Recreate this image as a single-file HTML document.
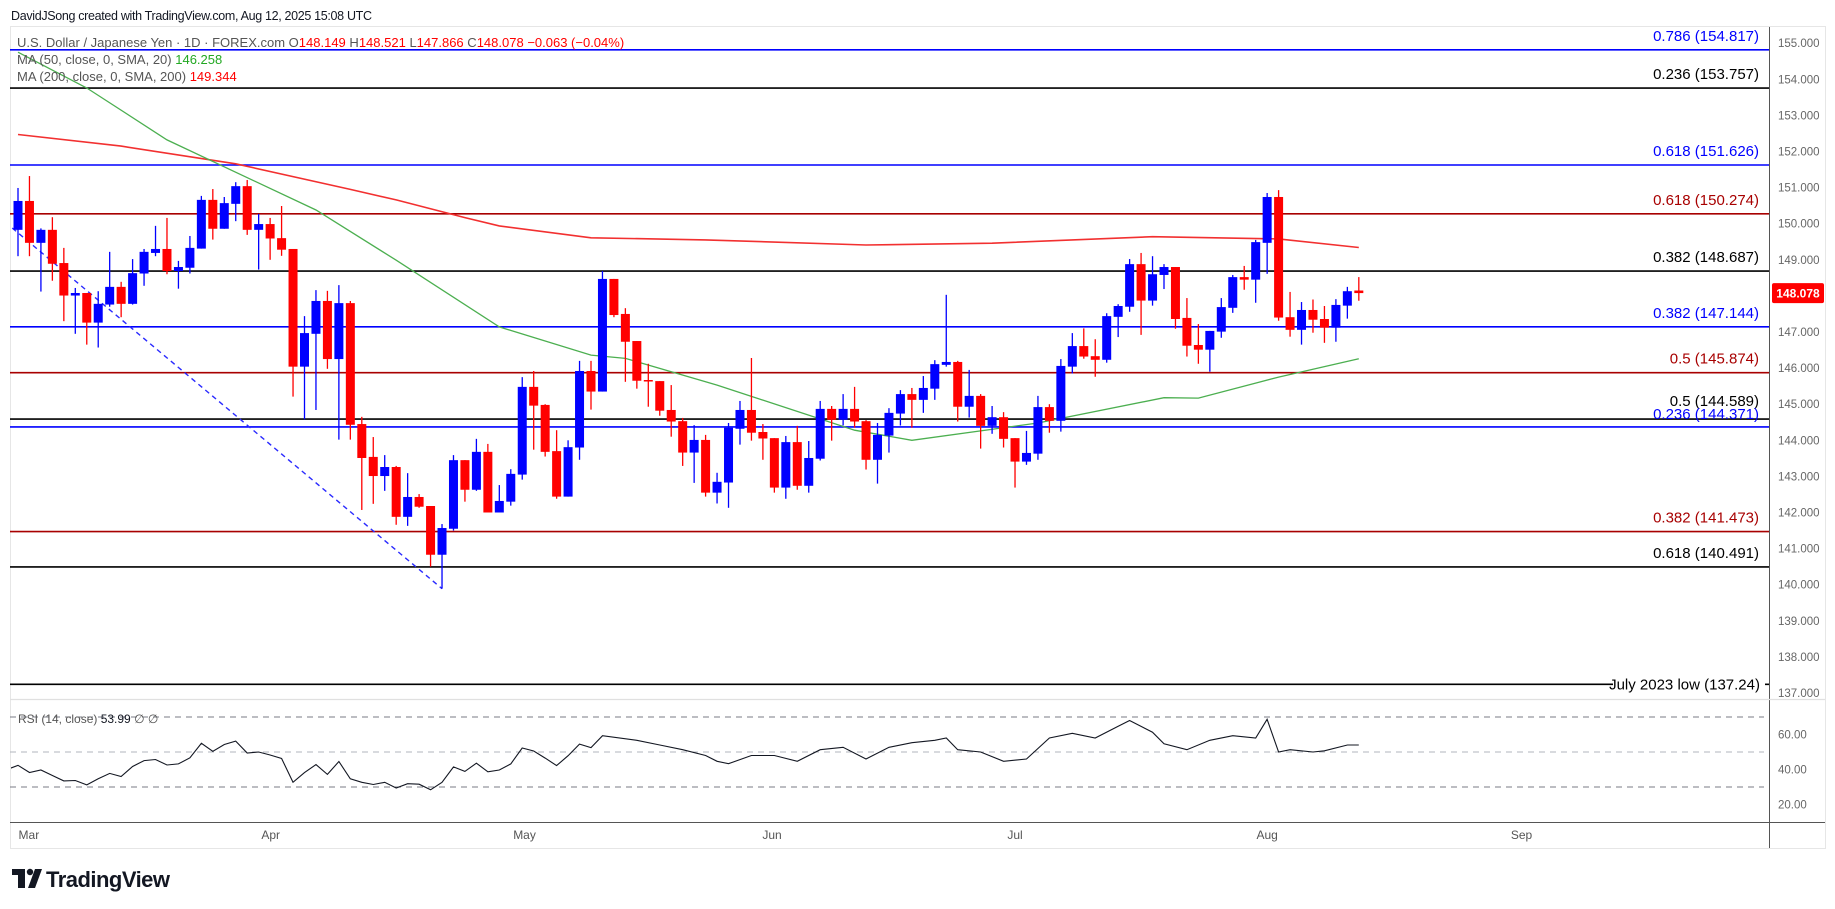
<!DOCTYPE html>
<html><head><meta charset="utf-8"><title>USDJPY Daily</title>
<style>
html,body{margin:0;padding:0;background:#fff;}
svg{display:block;font-family:"Liberation Sans",sans-serif;}
</style></head>
<body>
<svg id="chart" width="1835" height="909" viewBox="0 0 1835 909">
  <rect x="0" y="0" width="1835" height="909" fill="#ffffff"/>
  <text x="11" y="20" font-size="12.5" fill="#131722" textLength="361">DavidJSong created with TradingView.com, Aug 12, 2025 15:08 UTC</text>
  <rect x="10.5" y="26.5" width="1815" height="822" fill="none" stroke="#e6e6e6" stroke-width="1"/>
  <g id="plot"></g>
  <g id="rsi"></g>
  <g id="axes"></g>
  <text x="17" y="47" font-size="13" fill="#555">U.S. Dollar / Japanese Yen · 1D · FOREX.com <tspan fill="#555">O</tspan><tspan fill="#f00">148.149</tspan> <tspan fill="#555">H</tspan><tspan fill="#f00">148.521</tspan> <tspan fill="#555">L</tspan><tspan fill="#f00">147.866</tspan> <tspan fill="#555">C</tspan><tspan fill="#f00">148.078</tspan> <tspan fill="#f00">−0.063 (−0.04%)</tspan></text>
  <text x="17" y="64" font-size="13" fill="#555">MA (50, close, 0, SMA, 20) <tspan fill="#22a822">146.258</tspan></text>
  <text x="17" y="81" font-size="13" fill="#555">MA (200, close, 0, SMA, 200) <tspan fill="#f00">149.344</tspan></text>
  <text x="18" y="723" font-size="12" fill="#555">RSI (14, close) <tspan fill="#131722">53.99</tspan>  ∅  ∅</text>
  <g>
    <rect x="12" y="869" width="13" height="6" fill="#131722"/>
    <rect x="18" y="869" width="7" height="19" fill="#131722"/>
    <circle cx="30" cy="872" r="3.2" fill="#131722"/>
    <polygon points="35,869 42,869 35,888 28,888" fill="#131722"/>
    <text x="46" y="887" font-size="22" font-weight="bold" fill="#131722" textLength="124">TradingView</text>
  </g>
</svg>
<script>
// ---------- data ----------
const opens  = [149.83,150.63,149.47,149.83,148.91,148.01,148.08,147.26,147.76,148.25,147.78,148.62,149.19,149.30,148.69,148.78,149.31,150.66,149.86,150.55,151.04,149.83,149.99,149.60,149.30,146.04,146.95,147.86,146.25,147.80,144.45,143.54,143.01,143.26,141.88,142.43,142.18,140.83,141.55,143.45,142.63,143.68,142.00,142.30,143.05,145.48,144.98,143.70,142.44,143.80,145.92,145.35,148.47,147.50,146.75,145.67,145.64,144.84,144.53,143.66,144.01,142.55,142.83,144.32,144.84,144.23,144.06,142.69,143.95,142.74,143.49,144.87,144.57,144.87,144.53,143.46,144.13,144.74,145.28,145.12,145.43,146.09,146.17,144.93,145.23,144.40,144.64,144.06,143.41,143.63,144.92,144.54,146.04,146.61,146.33,146.23,147.42,147.70,148.88,147.87,148.58,148.80,147.39,146.64,146.51,147.01,147.67,148.52,148.45,149.47,150.74,147.41,147.06,147.61,147.36,147.12,147.73,148.149];
const highs  = [150.99,151.32,149.87,150.18,149.33,148.22,148.08,148.13,149.22,148.39,149.02,149.30,149.94,150.16,148.97,149.66,150.77,150.96,150.74,151.15,151.21,150.27,150.16,150.49,149.30,147.44,148.16,148.14,148.30,147.86,144.65,144.09,143.59,143.29,143.09,142.51,142.18,141.68,143.59,143.45,144.04,143.90,142.76,143.20,145.75,145.92,145.00,144.28,144.00,146.20,146.20,148.69,148.47,147.66,146.75,146.12,145.64,145.53,144.62,144.42,144.15,143.10,144.48,145.09,146.28,144.45,144.06,144.12,144.40,143.98,145.09,144.95,145.28,145.48,144.56,144.48,144.89,145.39,145.45,145.78,146.22,148.03,146.20,145.95,145.28,144.95,144.78,144.06,144.26,145.23,145.00,146.25,146.97,147.10,146.80,147.52,147.77,149.02,149.19,149.10,148.88,148.80,147.94,147.22,147.03,147.94,148.58,148.83,149.55,150.85,150.93,148.11,147.83,147.90,147.72,147.91,148.25,148.521];
const lows   = [149.10,149.10,148.12,148.42,147.30,146.95,146.65,146.57,147.70,147.41,147.76,148.28,149.10,148.60,148.20,148.62,149.31,149.56,149.86,150.07,149.69,148.73,149.00,149.11,145.21,144.58,144.84,145.98,144.02,144.02,142.07,142.24,142.60,141.66,141.63,142.13,140.50,139.89,141.50,142.30,142.60,142.00,142.00,142.19,142.91,143.74,143.55,142.38,142.44,143.46,144.85,145.35,147.41,145.62,145.43,144.93,144.68,144.10,143.29,142.82,142.44,142.25,142.13,143.88,143.99,143.46,142.55,142.38,142.63,142.55,143.44,143.99,144.41,144.35,143.19,142.80,143.66,144.41,144.35,144.76,145.12,146.04,144.52,144.63,143.77,144.18,143.80,142.69,143.32,143.46,144.21,144.24,145.85,146.26,145.76,146.15,146.86,147.56,146.92,147.73,148.19,147.09,146.32,146.12,145.90,146.84,147.53,148.17,147.81,148.61,147.31,146.87,146.65,146.98,146.70,146.73,147.37,147.866];
const closes = [150.63,149.47,149.83,148.89,148.01,148.08,147.26,147.78,148.25,147.78,148.63,149.22,149.30,148.69,148.80,149.33,150.66,149.86,150.57,151.04,149.83,149.99,149.59,149.28,146.04,146.97,147.86,146.25,147.80,144.43,143.51,143.01,143.26,141.88,142.43,142.16,140.83,141.57,143.45,142.63,143.68,142.00,142.32,143.07,145.48,144.96,143.68,142.44,143.81,145.92,145.35,148.47,147.47,146.73,145.65,145.63,144.82,144.52,143.66,144.01,142.55,142.85,144.35,144.84,144.21,144.05,142.69,143.95,142.74,143.51,144.87,144.57,144.87,144.52,143.46,144.15,144.76,145.28,145.12,145.45,146.11,146.17,144.93,145.23,144.40,144.64,144.04,143.41,143.65,144.92,144.54,146.06,146.61,146.32,146.23,147.44,147.72,148.88,147.87,148.60,148.80,147.36,146.62,146.51,147.03,147.69,148.52,148.45,149.49,150.74,147.40,147.06,147.61,147.34,147.12,147.75,148.13,148.078];

const ma50Bars   = [0,6,13,26,33,42,50,53,61,73,78,89,100,103,110,117];
const ma50Vals   = [154.75,153.76,152.32,150.38,148.99,147.14,146.36,146.27,145.53,144.28,144.00,144.48,145.18,145.17,145.75,146.26];
const ma200Bars  = [0,9,19,29,33,39,42,50,60,74,85,99,110,117];
const ma200Vals  = [152.47,152.15,151.66,150.95,150.66,150.17,149.94,149.61,149.55,149.41,149.46,149.64,149.58,149.34];

const rsiBars = [-1,0,1,2,3,4,5,6,7,8,9,10,11,12,13,14,15,16,17,18,19,20,21,22,23,24,25,26,27,28,29,30,31,32,33,34,35,36,37,38,39,40,41,42,43,44,45,46,47,48,49,50,51,54,56,58,60,61,62,64,66,68,70,72,74,76,78,80,81,82,84,86,88,90,92,94,96,97,99,100,102,104,106,108,109,110,111,113,114,116,117];
const rsiVals = [39.9,42.4,38.3,39.7,36.6,33.5,33.7,31.2,34.7,37.8,36.0,41.7,45.1,45.7,42.6,43.2,46.7,55.0,50.4,54.3,56.2,49.4,50.0,48.3,46.3,32.7,38.2,42.8,37.2,44.6,34.7,32.7,31.4,32.7,29.4,31.9,31.6,28.4,32.7,41.5,38.9,43.6,38.7,39.7,43.2,52.3,50.6,46.5,42.2,47.9,54.5,52.5,59.3,56.7,54.0,51.3,48.0,44.7,43.3,48.0,48.0,44.7,51.3,52.7,46.0,52.7,55.3,56.7,58.0,51.3,50.0,44.7,46.0,58.0,60.7,58.0,64.7,68.0,61.3,54.7,51.3,56.7,59.3,58.0,68.7,50.0,51.3,50.0,50.7,54.0,53.99];

const fibPrices = [154.817,153.757,151.626,150.274,148.687,147.144,145.874,144.589,144.371,141.473,140.491];
const fibLabels = ["0.786 (154.817)","0.236 (153.757)","0.618 (151.626)","0.618 (150.274)","0.382 (148.687)","0.382 (147.144)","0.5 (145.874)","0.5 (144.589)","0.236 (144.371)","0.382 (141.473)","0.618 (140.491)"];
const lowPrice = 137.24;
const lowLabel = "July 2023 low (137.24)";
const priceTicks = [155,154,153,152,151,150,149,148,147,146,145,144,143,142,141,140,139,138,137];
const rsiTicks = [60,40,20];
const rsiBands = [70,50,30];
const monthLabels = ["Mar","Apr","May","Jun","Jul","Aug","Sep"];
const monthBars = [0.95,22.05,44.2,65.8,87.0,109,131.2];
const lastPrice = 148.078;
const trendStart = [-0.5,149.88];
const trendEnd = [37.0,139.89];

// ---------- styles (not data) ----------
const fibStroke = ["#0000ff","#000000","#0000ff","#a80000","#000000","#0000ff","#a80000","#000000","#0000ff","#a80000","#000000"];
const fibLabelDy = [9,9,9,9,9,9,9,13,8,9,9];

// ---------- scales ----------
const NS = "http://www.w3.org/2000/svg";
const X0 = 18, DX = 11.46, LEFT = 10, RIGHT = 1769;
function xOf(i){ return X0 + i*DX; }
function yOf(p){ return 165 + (151.626 - p)*36.1; }
function rY(v){ return 752 - (v - 50)*1.75; }
function mk(tag, attrs, parent){
  const e = document.createElementNS(NS, tag);
  for (const k in attrs) e.setAttribute(k, attrs[k]);
  parent.appendChild(e);
  return e;
}
const plot = document.getElementById("plot");
const rsiG = document.getElementById("rsi");
const axes = document.getElementById("axes");

const defs = mk("defs", {}, plot);
const cp = mk("clipPath", {id:"pc"}, defs);
mk("rect", {x:LEFT+1, y:27, width:RIGHT-LEFT-1, height:672}, cp);
const cp2 = mk("clipPath", {id:"rc"}, defs);
mk("rect", {x:LEFT+1, y:700, width:RIGHT-LEFT-1, height:122}, cp2);

for (let k=0;k<fibPrices.length;k++){
  const y = yOf(fibPrices[k]);
  const ln = mk("line", {x1:LEFT, x2:RIGHT, y1:y, y2:y, stroke:fibStroke[k], "stroke-width":1.6}, plot);
  
  
  const t = mk("text", {x:1759, y:y-fibLabelDy[k], "text-anchor":"end", "font-size":15, fill:fibStroke[k]}, plot);
  t.textContent = fibLabels[k];
  
  
}
{
  const y = yOf(lowPrice);
  const ln = mk("line", {x1:LEFT, x2:1613, y1:y, y2:y, stroke:"#000", "stroke-width":1.6}, plot);
  
  
  const ln2 = mk("line", {x1:1765, x2:RIGHT, y1:y, y2:y, stroke:"#000", "stroke-width":1.6}, plot);
  
  
  const t = mk("text", {x:1760, y:y+5, "text-anchor":"end", "font-size":15, fill:"#000"}, plot);
  t.textContent = lowLabel;
  
  
}

const tl = mk("line", {x1:xOf(trendStart[0]), y1:yOf(trendStart[1]), x2:xOf(trendEnd[0]), y2:yOf(trendEnd[1]), stroke:"#2a2aff", "stroke-width":1.4, "stroke-dasharray":"5,4", "clip-path":"url(#pc)"}, plot);



function polyFrom(bars, vals){ return bars.map((b,i)=>xOf(b).toFixed(1)+","+yOf(vals[i]).toFixed(1)).join(" "); }
const m200 = mk("polyline", {points:polyFrom(ma200Bars, ma200Vals), fill:"none", stroke:"#f23030", "stroke-width":1.6, "clip-path":"url(#pc)"}, plot);


const m50 = mk("polyline", {points:polyFrom(ma50Bars, ma50Vals), fill:"none", stroke:"#4caf50", "stroke-width":1.3, "clip-path":"url(#pc)"}, plot);



for (let i=0;i<opens.length;i++){
  const up = closes[i] >= opens[i];
  const col = up ? "#0000ff" : "#ff0000";
  const x = xOf(i);
  const g = mk("g", {}, plot);
  
  
  mk("line", {x1:x, x2:x, y1:yOf(highs[i]), y2:yOf(lows[i]), stroke:col, "stroke-width":1.3}, g);
  const top = yOf(Math.max(opens[i], closes[i]));
  const bot = yOf(Math.min(opens[i], closes[i]));
  mk("rect", {x:x-4.5, y:top, width:9, height:Math.max(bot-top,1.5), fill:col}, g);
}

const axLine = mk("line", {x1:RIGHT+0.5, x2:RIGHT+0.5, y1:27, y2:848, stroke:"#555", "stroke-width":1}, axes);


for (const p of priceTicks){
  if (Math.abs(p - lastPrice) < 0.3) continue;
  const t = mk("text", {x:1778, y:yOf(p)+4, "font-size":11.5, fill:"#666"}, axes);
  t.textContent = p.toFixed(3);
  
  
}
const tag = mk("rect", {x:RIGHT+3, y:yOf(lastPrice)-10, width:52, height:20, fill:"#ff0000", rx:2}, axes);


const tagT = mk("text", {x:RIGHT+29, y:yOf(lastPrice)+4.5, "text-anchor":"middle", "font-size":12, "font-weight":"bold", fill:"#fff"}, axes);
tagT.textContent = lastPrice.toFixed(3);



const sep = mk("line", {x1:LEFT, x2:1825, y1:699.5, y2:699.5, stroke:"#e0e0e0", "stroke-width":1.2}, axes);


const tAx = mk("line", {x1:LEFT, x2:1825, y1:822.5, y2:822.5, stroke:"#555", "stroke-width":1}, axes);



for (let k=0;k<rsiBands.length;k++){
  const y = rY(rsiBands[k]);
  const l = mk("line", {x1:LEFT, x2:1764, y1:y, y2:y, stroke: rsiBands[k]===50 ? "#b2b5be" : "#787b86", "stroke-width":1, "stroke-dasharray":"6,5"}, rsiG);
  
  
}
for (const v of rsiTicks){
  const t = mk("text", {x:1778, y:rY(v)+4, "font-size":11.5, fill:"#666"}, axes);
  t.textContent = v.toFixed(2);
  
  
}
const rsiLine = mk("polyline", {points: rsiBars.map((b,i)=>xOf(b).toFixed(1)+","+rY(rsiVals[i]).toFixed(1)).join(" "), fill:"none", stroke:"#131722", "stroke-width":1.1, "clip-path":"url(#rc)"}, rsiG);



for (let k=0;k<monthLabels.length;k++){
  const t = mk("text", {x:xOf(monthBars[k]), y:839, "text-anchor":"middle", "font-size":12, fill:"#555"}, axes);
  t.textContent = monthLabels[k];
  
  
}
</script>
</body></html>
